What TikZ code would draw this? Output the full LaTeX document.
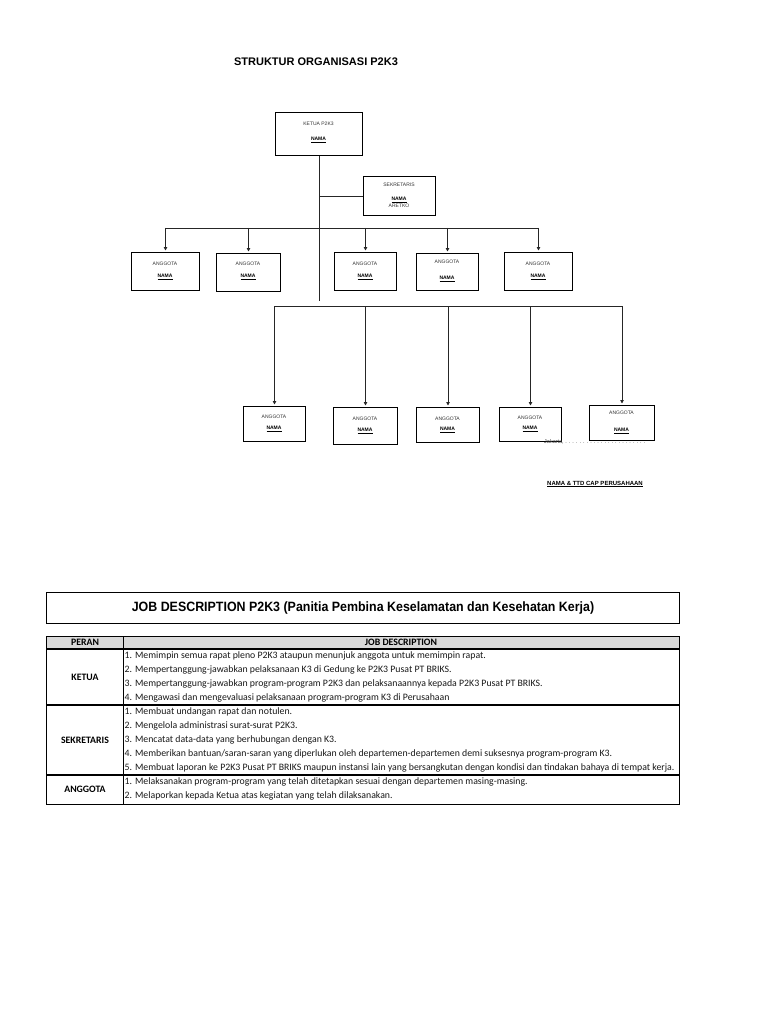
\documentclass[tikz,border=0pt]{standalone}
\usepackage{fontspec}
\setmainfont{Liberation Sans}
\newfontfamily\tabfont{Carlito}
\newfontfamily\narrowfont[FakeStretch=0.92]{Liberation Sans}
\usetikzlibrary{arrows.meta}

\begin{document}
\begin{tikzpicture}[x=1pt,y=-1pt,
  orgbox/.style={draw,line width=1pt,inner sep=0pt,anchor=north west},
  lbl/.style={font=\fontsize{5}{6}\selectfont,text=black!80,inner sep=0pt},
  nm/.style={font=\bfseries\fontsize{5}{6}\selectfont,inner sep=0pt},
  link/.style={line width=0.9pt,draw=black!85},
  arr/.style={link,-{Triangle[length=3.5pt,width=3.5pt]},shorten >=1.5pt},
  rowtext/.style={anchor=west,inner sep=0pt,text=black!90,font=\tabfont\fontsize{9.8}{11}\selectfont},
  rolelbl/.style={inner sep=0pt,font=\tabfont\bfseries\fontsize{9.8}{11}\selectfont}]
  \path[use as bounding box,fill=white] (0,0) rectangle (768,1024);

  % struktur organisasi
  \node[font=\bfseries\fontsize{11}{13}\selectfont] (title) at (316,62) {STRUKTUR ORGANISASI P2K3};

  \node[orgbox,minimum width=87,minimum height=43] (ketua) at (275,112) {};
  \node[lbl] (ketua-t) at (318.5,124) {KETUA P2K3};
  \node[nm] (ketua-n) at (318.5,140) {\underline{NAMA}};

  \node[orgbox,minimum width=72,minimum height=39] (sekr) at (363,176) {};
  \node[lbl] (sekr-t) at (399,185) {SEKRETARIS};
  \node[nm] (sekr-n) at (399,200) {\underline{NAMA}};
  \node[lbl] (sekr-x) at (399,205.5) {ARETKO};

  \coordinate (trunkend) at (319,301);
  \coordinate (bus1) at (319,228);
  \coordinate (bus2) at (319,306);

  % anggota baris atas
  \foreach \n/\xa/\xb/\ya/\yb/\ta/\tb in {1/131/199/252/290/264/277,
      2/216/280/253/291/264/277, 3/334/396/252/290/264/277,
      4/416/478/253/290/262/279, 5/504/572/252/290/264/277}{
    \node[orgbox,minimum width={\xb-\xa},minimum height={\yb-\ya}] (a\n) at (\xa,\ya) {};
    \node[lbl] (a\n-t) at ({(\xa+\xb)/2},\ta) {ANGGOTA};
    \node[nm] (a\n-n) at ({(\xa+\xb)/2},\tb) {\underline{NAMA}};
  }
  % anggota baris bawah
  \foreach \n/\xa/\xb/\ya/\yb/\ta/\tb in {1/243/305/406/441/417/429,
      2/333/397/407/444/419/431, 3/416/479/407/442/419/430,
      4/499/561/407/441/418/429, 5/589/654/405/440/413/431}{
    \node[orgbox,minimum width={\xb-\xa},minimum height={\yb-\ya}] (b\n) at (\xa,\ya) {};
    \node[lbl] (b\n-t) at ({(\xa+\xb)/2},\ta) {ANGGOTA};
    \node[nm] (b\n-n) at ({(\xa+\xb)/2},\tb) {\underline{NAMA}};
  }

  \draw[link] (ketua.south) -- (ketua.south |- trunkend);
  \draw[link] (ketua.south |- sekr.west) -- (sekr.west);
  \draw[link] (a1.north |- bus1) -- (a5.north |- bus1);
  \draw[link] (b1.north |- bus2) -- (b5.north |- bus2);
  \foreach \n in {1,...,5}{
    \draw[arr] (a\n.north |- bus1) -- (a\n.north);
    \draw[arr] (b\n.north |- bus2) -- (b\n.north);
  }

  \node[anchor=west,inner sep=0pt,text=black!75,font=\fontsize{5.5}{6}\selectfont] (tempat) at (544,442) {Jakarta, . . . . . . . . . . . . . . . . . . . . . . .};
  \node[inner sep=0pt,font=\bfseries\fontsize{6}{7}\selectfont] (ttd) at (595,484) {\underline{NAMA \& TTD CAP PERUSAHAAN}};

  % job description
  \node[draw,line width=1pt,inner sep=0pt,anchor=north west,minimum width=633,minimum height=31] (jdbox) at (46,592) {};
  \node[font=\narrowfont\bfseries\fontsize{13.5}{15}\selectfont] (jdtitle) at (jdbox.center) {JOB DESCRIPTION P2K3 (Panitia Pembina Keselamatan dan Kesehatan Kerja)};

  \fill[black!15] (46,636) rectangle (679,649);
  \draw[line width=0.9pt] (46,636) rectangle (679,804);
  \draw[line width=0.9pt] (123,636) -- (123,804);
  \foreach \yy in {649,705,775}
    \draw[line width=1.1pt] (46,\yy) -- (679,\yy);

  \node[rolelbl] (peran) at (85,642.5) {PERAN};
  \node[rolelbl] (jdhead) at (401,642.5) {JOB DESCRIPTION};
  \node[rolelbl] (ketua-r) at (85,677) {KETUA};
  \node[rolelbl] (sekr-r) at (85,740) {SEKRETARIS};
  \node[rolelbl] (anggota-r) at (85,789.5) {ANGGOTA};

  \foreach \yy/\txt in {656/{1. Memimpin semua rapat pleno P2K3 ataupun menunjuk anggota untuk memimpin rapat.},
      670/{2. Mempertanggung-jawabkan pelaksanaan K3 di Gedung ke P2K3 Pusat PT BRIKS.},
      684/{3. Mempertanggung-jawabkan program-program P2K3 dan pelaksanaannya kepada P2K3 Pusat PT BRIKS.},
      698/{4. Mengawasi dan mengevaluasi pelaksanaan program-program K3 di Perusahaan},
      712/{1. Membuat undangan rapat dan notulen.},
      726/{2. Mengelola administrasi surat-surat P2K3.},
      740/{3. Mencatat data-data yang berhubungan dengan K3.},
      754/{4. Memberikan bantuan/saran-saran yang diperlukan oleh departemen-departemen demi suksesnya program-program K3.},
      768/{5. Membuat laporan ke P2K3 Pusat PT BRIKS maupun instansi lain yang bersangkutan dengan kondisi dan tindakan bahaya di tempat kerja.},
      782/{1. Melaksanakan program-program yang telah ditetapkan sesuai dengan departemen masing-masing.},
      796/{2. Melaporkan kepada Ketua atas kegiatan yang telah dilaksanakan.}}
    \node[rowtext] at (124.5,\yy) {\txt};
\end{tikzpicture}
\end{document}
